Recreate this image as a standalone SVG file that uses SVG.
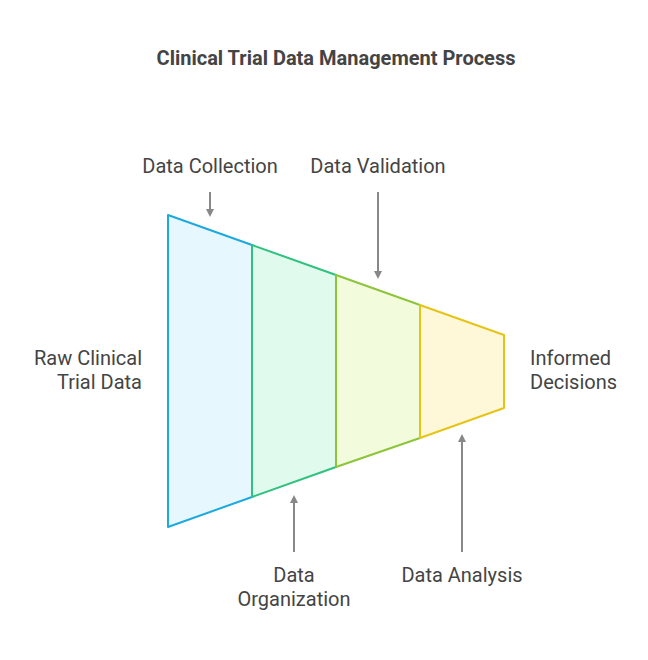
<svg xmlns="http://www.w3.org/2000/svg" width="648" height="660" viewBox="0 0 648 660">
<style>
text{font-family:Roboto,"Liberation Sans",sans-serif;font-size:20px;fill:#444}
.t{font-weight:bold;font-size:20px}
.c{stroke:#888;stroke-width:2;fill:none;marker-end:url(#a)}
.s{stroke-width:2;stroke-linejoin:round}
</style>
<defs><marker id="a" markerWidth="8" markerHeight="8" refX="4" refY="4" orient="auto" markerUnits="userSpaceOnUse"><path d="M0,0L8,4L0,8z" fill="#888"/></marker></defs>
<rect width="648" height="660" fill="#fff"/>
<text class="t" x="336" y="65" text-anchor="middle">Clinical Trial Data Management Process</text>
<g id="seg1"><path class="s" d="M168,215L252,245L252,497L168,527Z" fill="#e6f7fd" stroke="#1ea9dd"/></g>
<g id="seg2"><path class="s" d="M252,245L336,275L336,467L252,497Z" fill="#e0fbee" stroke="#2ec27e"/></g>
<g id="seg3"><path class="s" d="M336,275L420,305L420,438L336,467Z" fill="#f2fcdd" stroke="#8cc43a"/></g>
<g id="seg4"><path class="s" d="M420,305L504,335L504,408L420,438Z" fill="#fff8d8" stroke="#e5c417"/></g>
<g id="connectors">
<path class="c" d="M210,192L210,213"/>
<path class="c" d="M378,192L378,275"/>
<path class="c" d="M294,552L294,499"/>
<path class="c" d="M462,552L462,438"/>
</g>
<g id="labels">
<text x="210" y="173" text-anchor="middle">Data Collection</text>
<text x="378" y="173" text-anchor="middle">Data Validation</text>
<text x="294" y="582" text-anchor="middle">Data</text>
<text x="294" y="606" text-anchor="middle">Organization</text>
<text x="462" y="582" text-anchor="middle">Data Analysis</text>
<text x="142" y="365" text-anchor="end">Raw Clinical</text>
<text x="142" y="389" text-anchor="end">Trial Data</text>
<text x="530" y="365">Informed</text>
<text x="530" y="389">Decisions</text>
</g>
</svg>
